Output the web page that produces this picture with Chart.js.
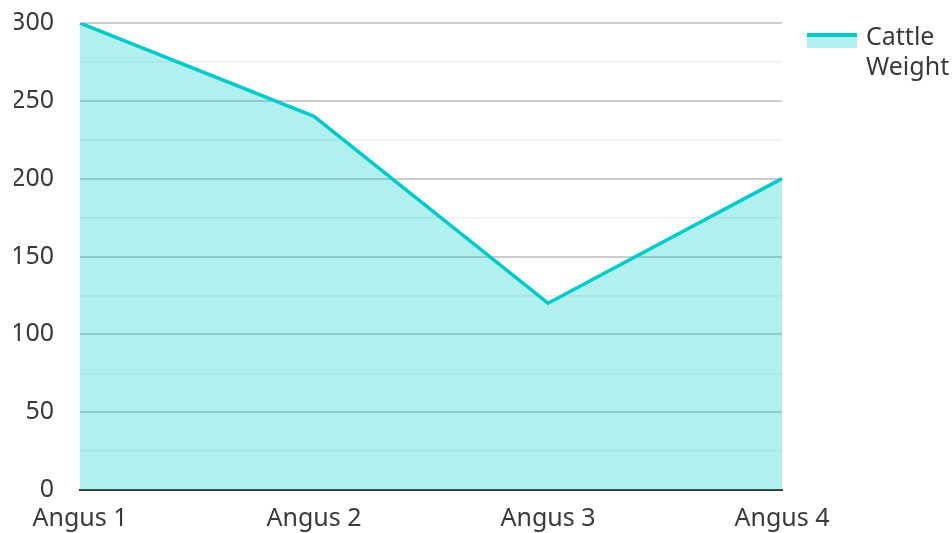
<!DOCTYPE html>
<html>
<head>
<meta charset="utf-8">
<script src="https://cdn.jsdelivr.net/npm/chart.js@4/dist/chart.umd.min.js"></script>
<style>
html,body{margin:0;padding:0;background:#fff;}
#wrap{position:relative;width:952px;height:533px;}
</style>
</head>
<body>
<div id="wrap"><canvas id="c" width="952" height="533"></canvas></div>
<script>
const categories = ["Angus 1", "Angus 2", "Angus 3", "Angus 4"];
const weights = [300, 240, 120, 200];
const seriesName = ["Cattle", "Weight"];
const yTicks = [0, 50, 100, 150, 200, 250, 300];

const lineColor = "rgb(0,204,204)";
const fillColor = "rgba(0,204,204,0.3)";
const FONT = "'Noto Sans', sans-serif";
const TEXT = "#3a3a3a";

const legendPlugin = {
  id: "customLegend",
  afterDraw(chart) {
    const ctx = chart.ctx;
    const x = 807, y = 33, w = 50, h = 15;
    ctx.save();
    ctx.fillStyle = fillColor;
    ctx.fillRect(x, y, w, h);
    ctx.fillStyle = lineColor;
    ctx.fillRect(x, y, w, 4);
    ctx.fillStyle = TEXT;
    ctx.font = "25px " + FONT;
    ctx.textBaseline = "alphabetic";
    ctx.textAlign = "left";
    seriesName.forEach((t, i) => ctx.fillText(t, 866, 45 + i * 30));
    ctx.restore();
  }
};

new Chart(document.getElementById("c"), {
  type: "line",
  data: {
    labels: categories,
    datasets: [{
      label: seriesName.join(" "),
      data: weights,
      borderColor: lineColor,
      backgroundColor: fillColor,
      borderWidth: 3.5,
      fill: "origin",
      tension: 0,
      pointRadius: 0,
      pointHoverRadius: 0
    }]
  },
  options: {
    responsive: false,
    animation: false,
    devicePixelRatio: 1,
    layout: { padding: { top: 23, right: 170, left: 14, bottom: 0 } },
    plugins: { legend: { display: false }, tooltip: { enabled: false } },
    scales: {
      x: {
        offset: false,
        grid: { display: false, drawTicks: false },
        border: { display: true, color: "#333", width: 2 },
        ticks: { color: TEXT, font: { family: FONT, size: 25 }, padding: 14, maxRotation: 0 },
        afterFit: (s) => { s.height = 43; s.paddingLeft = 0; s.paddingRight = 0; }
      },
      y: {
        min: 0, max: 300,
        grid: {
          drawTicks: false,
          color: (c) => (c.tick && c.tick.value % 50 === 0) ? "#cccccc" : "#eeeeee",
          lineWidth: (c) => (c.tick && c.tick.value % 50 === 0) ? 2 : 1.5
        },
        border: { display: false },
        ticks: {
          stepSize: 25,
          color: TEXT,
          font: { family: FONT, size: 25 },
          padding: 26,
          callback: (v) => yTicks.includes(v) ? String(v) : ""
        },
        afterFit: (s) => { s.width = 66; s.paddingTop = 0; s.paddingBottom = 0; }
      }
    }
  },
  plugins: [legendPlugin]
});
</script>
</body>
</html>
